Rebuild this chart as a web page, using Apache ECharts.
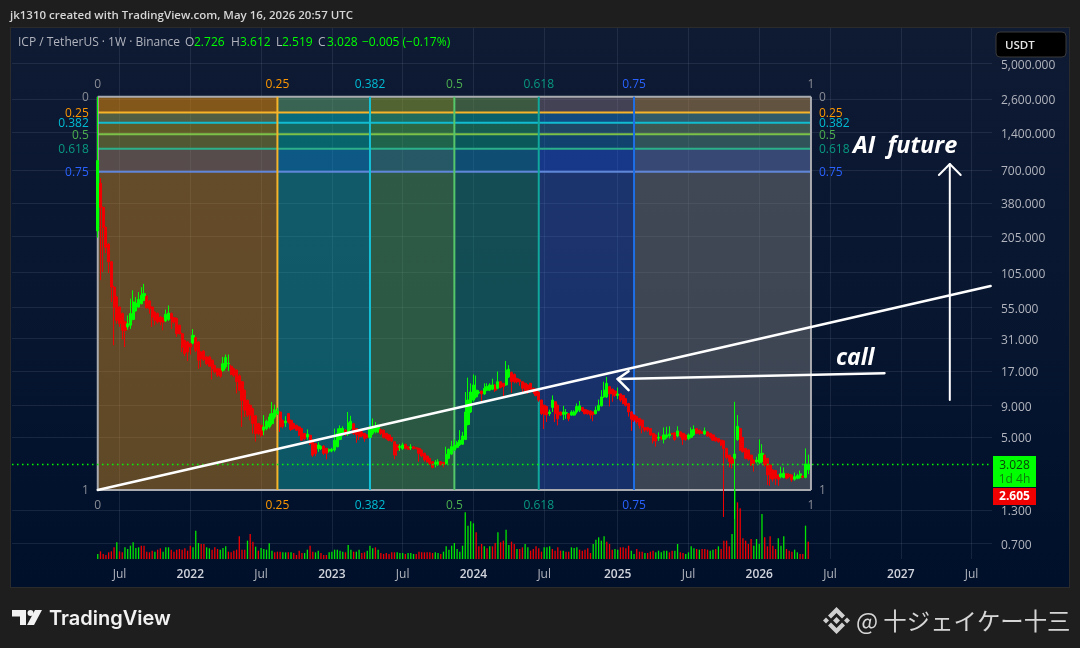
<!DOCTYPE html>
<html><head><meta charset="utf-8">
<style>html,body{margin:0;padding:0;background:#1e1e1e}#c{width:1080px;height:648px}</style>
<script src="https://cdn.jsdelivr.net/npm/echarts@6/dist/echarts.min.js"></script></head>
<body><div id="c"></div><script>
const opens=[226,546,350,242,177,128,80,66.7,55.4,49,
42,38.3,39.5,44,51.5,55.4,58.9,62.7,67.5,62,
55.4,50.5,49,46,45,42.8,44,49,45.4,44.7,
39.5,33.8,29.9,29,28.1,28.5,31.4,29,24.1,24.5,
22,22,20.7,18.8,17.7,17.7,17.2,18.3,19.4,18.5,
17.7,17.2,15.5,13.9,11.9,9.87,9,8.45,7.4,6.41,
6.2,5.67,5.85,6.03,6.41,7.25,7.71,7.95,6.81,6.5,
7.71,6.81,6.41,6.2,6.03,5.85,5.33,5.01,5.17,4.71,
4.43,4.03,4.05,4.23,4.05,3.86,3.86,3.93,4.18,4.78,
5.2,5.68,5.3,5.85,6.4,5.85,5.6,5.5,5.35,5.2,
4.97,5.35,5.5,5.5,5.75,5.68,5.35,5.2,4.97,4.58,
4.32,4.13,4.05,4.38,4.18,4.1,4.18,4.1,4.05,3.93,
3.7,3.52,3.37,3.17,3.03,3.03,3.17,3.13,3.07,3.37,
3.65,3.93,4.13,4.32,4.38,4.78,6.3,7.95,9.9,10.5,
11.3,11.7,11.1,11.9,11.9,12.1,13.1,12.3,13.9,13.5,
13.1,15.2,16.5,15.9,14.7,14.4,13.9,13.5,13.1,13.5,
12.3,12.1,11.5,9.9,9,8.8,7.7,8.65,9.6,9,
7.95,7.6,7.7,7.7,7.5,7.5,7.95,8.2,8.65,8.3,
8.2,8.1,7.95,7.7,8.2,8.9,10.5,10.5,12.7,12.1,
11.7,10.8,11.1,10.8,10.2,9.3,7.95,7.5,7.3,7.05,
6.84,5.97,5.97,5.85,5.35,5.2,4.9,5.03,4.8,4.97,
5.1,5.35,5.4,5.1,5.5,5.35,5.2,4.87,4.97,5.2,
5.85,5.68,5.5,5.3,5.5,5.35,5.2,4.97,4.87,4.72,
4.66,4.05,3.58,3.43,3.37,4.78,5.85,4.97,4.05,3.93,
3.58,3.27,3.17,3.12,3.17,3.58,3.37,2.98,2.72,2.69,
2.48,2.4,2.37,2.53,2.5,2.48,2.29,2.33,2.36,2.43,
2.37,2.726];
const closes=[830,350,242,167,128,80,55.4,43.3,40.7,36,
36,40.7,49,60.8,59.6,63.8,68.8,70.9,54.7,53.8,
46,43.3,42,42,42,48.4,49.6,44.7,42,33.8,
33.8,26.4,23.4,24.1,26.4,32.8,24.9,20.7,21.3,20.9,
19.4,18.5,17.7,16.7,15.7,15.4,19.4,21.8,19.6,16,
15.7,13.9,11.9,9.87,8.2,7.5,7.5,6.41,5.33,5.33,
5.17,6.03,6.7,7.25,7.71,8.3,8.1,6.03,6.1,6.7,
6.6,5.75,5.85,5.67,5.17,4.71,4.86,5.27,4.43,3.57,
3.68,4.32,4.18,3.7,3.7,3.98,3.98,4.72,5.35,5.85,
5.85,5.35,6.5,6.7,5.35,5.2,5.03,5.1,4.87,4.95,
5.75,5.85,5.97,6.05,5.35,4.97,4.87,4.72,4.66,3.58,
3.93,4.2,4.32,4.05,3.98,4.15,4.03,4.03,3.7,3.52,
3.27,3.17,3.07,2.85,3.12,3.15,3,3,3.63,3.98,
4.18,4.32,4.5,4.72,5.1,7.95,9.9,11.5,13.1,11.9,
11.5,11.1,12.3,12.7,13.1,13.1,11.9,13.9,12.5,12.7,
17.2,17.5,13.9,13.9,13.9,13.9,12.3,11.7,11.9,12.1,
11.5,10.8,9.9,7.7,7.6,7.5,7.95,9.9,7.7,7,
7.5,7.95,7.85,7,7.95,7.95,8.8,8.9,8.1,7.7,
7.7,7.5,7.6,8.2,9,10.5,11.9,13.5,11.1,11.1,
10.8,11.1,9.9,9.3,9,7.95,6.95,6.84,6.6,6.2,
5.97,5.68,5.68,5.2,4.66,4.66,4.97,4.87,5.2,5.2,
5.3,5.3,4.78,5.6,5.1,4.78,4.78,5.2,5.68,5.75,
5.35,5.35,5.35,5.6,5.1,4.97,4.72,4.66,4.58,4.32,
4.05,3.43,3.17,3.07,3.65,6.1,3.93,3.81,3.37,3.32,
2.98,3.07,3.27,3.65,3.7,2.98,2.48,2.33,2.29,2.33,
2.29,2.53,2.56,2.33,2.4,2.26,2.4,2.45,2.53,2.38,
3.033,3.028];
const lows=[200,91,106,150,104,60.9,27.3,40.7,38.3,30.4,
26.4,36.4,37,43.3,51,54.7,58.2,62,53.8,49,
38.3,39.5,40.7,39.5,36,42,42.8,37,40.7,31.8,
33.4,24.1,22.3,20.4,23,27.8,24.1,17.7,18.3,20.4,
18.8,18.3,14.5,16.2,15.2,15,16.7,17.7,17,15.7,
15.2,11.2,11.8,6.03,7.25,7.25,6.81,5.33,4.6,5.17,
5.01,5.17,5.67,5.85,6.2,7,7.5,5.5,5.85,6.03,
6.41,5.6,5.75,5.6,5.07,4.65,4.71,4.77,4.3,3.46,
3.5,3.81,3.93,3.58,3.31,3.75,3.77,3.81,4.13,4.72,
5.1,5.1,5.1,5.68,5.2,4.5,4.72,4.97,4.58,4.85,
4.87,5.2,5.35,5.4,5.2,4.87,4.78,4.63,4.55,3.31,
3.53,3.86,3.93,3.98,3.93,3.93,3.98,3.98,3.17,3.43,
3.17,3.12,2.98,2.8,2.85,2.93,2.96,2.85,3,3.32,
3.58,3.86,4.05,4.23,4.32,4.72,6.2,7.8,9.6,10.2,
11,9.4,10.9,11.7,11.7,11.9,11.5,12.1,12.3,10.5,
12.9,14.9,11.3,13.5,13.5,12.9,11.5,11.5,11.1,11.7,
11.1,10.6,9.6,7.5,5.8,6.6,7.4,7.95,6.6,6.2,
7.4,6.84,7,6.7,7.4,7.4,7.7,7.95,7.95,7.6,
7.55,7,6.7,7.6,8.05,8.8,10.3,10.3,8.8,9.6,
10.5,10.1,9.6,9.15,8.8,7.3,5.6,6.6,6.4,5.85,
5.35,5.5,5.5,5.1,4.44,4.18,4.66,4.72,4.44,4.87,
4.87,5.2,4.66,4.97,4.97,4.32,4.66,4.72,4.87,5.1,
5.3,5.2,5.3,5.2,5.03,4.87,4.66,4.58,4.5,4.23,
1.14,3.3,2.85,2.8,1.1,4.66,3.86,3.75,3.32,3.23,
2.93,2.64,3.07,3.03,3.07,2.89,2.06,2.03,2.19,2.06,
2.03,2.33,2.33,2.29,2.33,2.18,2.23,2.29,2.31,2.33,
2.33,2.519];
const highs=[2700,600,355,245,180,130,82,68,56,50,
43,47.4,64.6,75.4,66.7,73,80,85,68.8,63,
56,51,50,47,46,52.8,57,50,46,45.5,
40,34.5,30,29.5,28.5,36.8,32,29.5,24.5,25,
22.5,22.5,21,19,18,18,22,23,23,19,
18,17.5,16,14,12,10,9.2,8.6,7.5,6.5,
6.3,7.5,6.9,7.7,9.57,9.1,8.6,8.1,6.9,7.35,
7.8,6.9,6.5,6.3,6.1,5.9,5.4,5.75,5.2,4.75,
4.5,4.55,4.3,4.3,4.1,4.05,4.1,5.85,5.85,6.2,
6.1,5.8,7.95,7.4,6.5,5.9,5.7,5.6,5.4,5.25,
6.2,7.05,6.6,6.3,5.85,5.75,5.4,5.25,5,4.6,
4.4,4.38,4.5,4.4,4.22,4.38,4.2,4.12,4.1,3.95,
3.75,3.55,3.4,3.2,3.27,3.32,3.2,3.15,4.18,4.05,
4.66,4.78,4.66,5.68,5.5,11.5,15,13.5,15.9,15.6,
11.9,11.8,13.5,13.5,13.5,14.7,13.3,16.8,14,13.6,
20.4,18.9,16.8,16.2,15,14.6,14,13.7,13.3,13.6,
12.5,12.2,11.6,10,9.1,8.9,8.3,10.8,9.7,9.1,
8,8.9,8.4,7.8,8.2,8.2,9.3,9.75,8.7,8.4,
8.25,8.2,8,8.8,10,11.9,13.9,15.2,12.9,12.3,
11.9,12.5,11.2,10.9,10.3,9.4,8.1,7.6,7.35,7.1,
6.9,6,6,5.9,5.4,5.25,5.45,5.1,5.97,6.05,
6.1,5.4,5.45,6.1,5.55,5.4,5.25,5.35,5.97,6.2,
5.9,5.75,5.55,5.97,5.55,5.4,5.25,5,4.9,4.75,
4.7,4.1,3.6,3.45,9.6,7.5,5.95,5,4.1,4,
3.6,3.3,3.47,4.78,4.38,3.6,3.4,3,2.75,2.72,
2.5,2.89,2.85,2.56,2.56,2.5,2.59,2.53,2.69,2.45,
4.05,3.612];
const volumes=[15,23,15,12,20,23,35,50,23,20,
35,30,40,50,33,35,40,40,22,20,
25,22,28,32,22,35,35,28,22,28,
30,28,32,25,40,35,85,48,45,45,
35,32,28,35,30,28,33,38,22,20,
25,28,68,28,28,55,75,52,37,25,
33,30,28,47,25,20,22,22,20,20,
20,20,18,12,25,18,18,28,40,22,
20,25,18,12,12,20,22,28,28,25,
22,20,42,28,22,22,28,18,20,25,
40,32,35,28,18,15,18,15,20,20,
20,18,18,15,18,18,15,15,22,20,
20,20,20,18,20,18,15,22,38,28,
40,48,30,22,40,140,100,113,107,80,
38,45,38,32,38,38,48,80,50,55,
88,42,52,45,30,30,35,45,35,25,
30,38,32,22,35,35,38,30,25,35,
25,25,22,22,35,33,35,28,25,28,
32,18,45,58,65,55,68,52,45,28,
30,28,35,35,32,40,25,15,30,22,
22,18,18,22,25,20,25,20,25,25,
20,25,25,45,20,18,15,20,38,32,
30,28,30,30,28,25,28,30,38,30,
55,55,38,75,210,170,152,62,55,45,
60,40,60,45,135,65,38,68,40,30,
62,40,68,30,25,22,28,20,15,15,
100,52];
const volumeUpFlags=("1000000100"+"1111110000"+"0100111000"+"0000011100"+"1100011100"+"0000010010"+
"1111100011"+"0100001100"+"1100011111"+"1011011001"+"1101000000"+"1110111000"+"0000110111"+
"1111111110"+"0010100100"+"1100100110"+"0000111000"+"0100111000"+"0011111000"+"1100001100"+
"0100011111"+"0011001111"+"0100011010"+"0001100000"+"0111100000"+"1110001100"+"10");
const priceTicks=[5000,2600,1400,700,380,205,105,55,31,17,9,5,1.3,0.7];
const xTickDates=['2021-07-05','2022-01-03','2022-07-04','2023-01-02','2023-07-03','2024-01-01','2024-07-01','2025-01-06','2025-07-07','2026-01-05','2026-07-06','2027-01-04','2027-07-05'];
const xTickTexts=['Jul','2022','Jul','2023','Jul','2024','Jul','2025','Jul','2026','Jul','2027','Jul'];
const fibRatios=[0,0.25,0.382,0.5,0.618,0.75,1];
const fibLabels=['0','0.25','0.382','0.5','0.618','0.75','1'];
const fibTextColors=['#8a8d96','#ff9800','#00bcd4','#4caf50','#089981','#2962ff','#8a8d96'];
const fibLineColors=['#a9abb0','#f5b42a','#14c0d6','#55c76a','#0fa89a','#1e6fe6','#a9abb0'];
const fibHLineColors=['#a9abb0','#f5b42a','#12bcd0','#7cc248','#2bb08a','#5f86d8','#a9abb0'];
const fibTimeFill=['rgba(255,152,0,.36)','rgba(0,188,190,.38)','rgba(76,175,80,.42)','rgba(8,153,129,.38)','rgba(41,98,255,.28)','rgba(125,125,125,.42)'];
const fibPriceFill=['rgba(255,152,0,.2)','rgba(0,188,212,.2)','rgba(76,175,80,.2)','rgba(8,153,129,.2)','rgba(41,98,255,.2)','rgba(120,123,134,.1)'];
const fibTop=2700, fibBottom=1.88, fibBars=262, leadingBars=31, totalSlots=360;
const lastPrice=3.028;
const trendLine=[[31,1.88],[359,81.7]];
const callArrow=[[[320,16.3],[222,14.6]],[[226,16.9],[222,14.6],[226,11.9]]];
const futureArrow=[[[344,9.9],[344,780]],[[340,636],[344,780],[348,636]]];

const DAY=864e5, firstWeek=Date.UTC(2020,9,5);
const weeks=[];for(let i=0;i<totalSlots;i++)weeks.push(new Date(firstWeek+i*7*DAY).toISOString().slice(0,10));
const tickMap={};xTickDates.forEach((d,i)=>tickMap[d]=xTickTexts[i]);
const showTick=(idx,val)=>val in tickMap;
const FONT='"Open Sans",sans-serif';
const candleData=opens.map((o,i)=>[leadingBars+i,o,closes[i],lows[i],highs[i]]);
const volData=volumes.map((v,i)=>({value:[leadingBars+i,v],itemStyle:{color:volumeUpFlags[i]==='1'?'#00e600':'#f00000'}}));

function fibRender(params,api){
  const px=f=>api.coord([leadingBars+Math.round(f*fibBars),fibTop])[0];
  const py=f=>api.coord([leadingBars,fibTop-(fibTop-fibBottom)*f])[1];
  const ch=[];
  const x0=px(0),x1=px(1),y0=py(0),y1=py(1);
  for(let i=0;i<6;i++){
    ch.push({type:'rect',shape:{x:px(fibRatios[i]),y:y0,width:px(fibRatios[i+1])-px(fibRatios[i]),height:y1-y0},style:{fill:fibTimeFill[i]}});
  }
  for(let i=0;i<6;i++){
    ch.push({type:'rect',shape:{x:x0,y:py(fibRatios[i]),width:x1-x0,height:py(fibRatios[i+1])-py(fibRatios[i])},style:{fill:fibPriceFill[i]}});
  }
  fibRatios.forEach((f,i)=>{
    const y=py(f);
    ch.push({type:'line',shape:{x1:x0,y1:y,x2:x1,y2:y},style:{stroke:fibHLineColors[i],lineWidth:2}});
  });
  fibRatios.forEach((f,i)=>{
    const y=py(f),x=px(f);
    ch.push({type:'line',shape:{x1:x,y1:y0,x2:x,y2:y1},style:{stroke:fibLineColors[i],lineWidth:2}});
    const tx={fill:fibTextColors[i],font:'12px '+FONT,text:fibLabels[i],textVerticalAlign:'middle'};
    ch.push({type:'text',style:Object.assign({},tx,{x:x,y:y0-12,textAlign:'center'})});
    ch.push({type:'text',style:Object.assign({},tx,{x:x,y:y1+16,textAlign:'center'})});
    ch.push({type:'text',style:Object.assign({},tx,{x:x0-9,y:y+1,textAlign:'right'})});
    ch.push({type:'text',style:Object.assign({},tx,{x:x1+8,y:y+1,textAlign:'left'})});
  });
  return {type:'group',children:ch};
}
function drawRender(params,api){
  const lines=[trendLine,callArrow[0],callArrow[1],futureArrow[0],futureArrow[1]];
  const widths=[2.5,2.5,2.5,2,2];
  return {type:'group',children:lines.map((l,i)=>({type:'polyline',shape:{points:l.map(p=>api.coord(p))},style:{stroke:'#ffffff',lineWidth:widths[i],fill:null,lineCap:'round',lineJoin:'round'}}))};
}
const txt=(x,y,text,fill,font,extra)=>({type:'text',z:100,x:x,y:y,silent:true,style:Object.assign({text:text,fill:fill,font:font,textVerticalAlign:'middle'},extra||{})});
const rect=(x,y,w,h,fill,extra)=>Object.assign({type:'rect',silent:true,shape:{x:x,y:y,width:w,height:h},style:{fill:fill},z:100},extra||{});
const poly=(pts,fill)=>({type:'polygon',z:100,silent:true,shape:{points:pts},style:{fill:fill}});
const LEG='12px '+FONT, G='#00ff00', GR='#b2b5be';
const graphicEls=[
 rect(0,0,1080,648,'#1e1e1e',{z:-100}),
 rect(10,27,1060,561,'#2b2b2b',{z:-99}),
 {type:'rect',silent:true,z:-98,shape:{x:11,y:28,width:1058,height:559},style:{fill:new echarts.graphic.LinearGradient(0,0,0,1,[{offset:0,color:'#0f1a33'},{offset:.5,color:'#081630'},{offset:1,color:'#00102a'}])}},
 txt(10,16,'jk1310 created with TradingView.com, May 16, 2026 20:57 UTC','#d6d6d6','600 11.5px '+FONT),
 txt(18,43,'ICP / TetherUS · 1W · Binance',GR,LEG),
 txt(185,43,'O',GR,LEG),txt(194,43,'2.726',G,LEG),
 txt(231,43,'H',GR,LEG),txt(240,43,'3.612',G,LEG),
 txt(276,43,'L',GR,LEG),txt(282,43,'2.519',G,LEG),
 txt(318,43,'C',GR,LEG),txt(327,43,'3.028',G,LEG),
 txt(362,43,'−0.005 (−0.17%)',G,LEG),
 rect(996,32,70,25,'#000000',{style:{fill:'#000',stroke:'#3a3a3a',lineWidth:1},shape:{x:996,y:32,width:70,height:25,r:4}}),
 txt(1005,45.5,'USDT','#e6e6e6','600 11.5px '+FONT),
 txt(853,146,'AI  future','#ffffff','italic bold 23.5px "Open Sans",sans-serif'),
 txt(836,358,'call','#ffffff','italic bold 23px "Open Sans",sans-serif'),
 rect(993,456,43,31,'#00ff00'),
 txt(1014.5,466,'3.028','#0b3d0b','12px '+FONT,{textAlign:'center'}),
 txt(1014.5,480,'1d 4h','#0f7a0f','12px '+FONT,{textAlign:'center'}),
 rect(993,488,43,17,'#f00000'),
 txt(1014.5,497,'2.605','#ffffff','bold 12px '+FONT,{textAlign:'center'}),
 rect(12,610,14,6.5,'#f2f2f2'),rect(20,610,6,15,'#f2f2f2'),
 {type:'circle',z:100,silent:true,shape:{cx:30.5,cy:613,r:3},style:{fill:'#f2f2f2'}},
 poly([[35,610],[42,610],[34,625],[27,625]],'#f2f2f2'),
 txt(49,619,'TradingView','#f2f2f2','600 20px Inter,sans-serif'),
 poly([[836.5,607],[845,615.5],[842,618.5],[836.5,613],[831,618.5],[828,615.5]],'#cfcfcf'),
 poly([[836.5,634],[845,625.5],[842,622.5],[836.5,628],[831,622.5],[828,625.5]],'#cfcfcf'),
 poly([[823,620.5],[826,617.5],[829,620.5],[826,623.5]],'#cfcfcf'),
 poly([[844,620.5],[847,617.5],[850,620.5],[847,623.5]],'#cfcfcf'),
 poly([[833,620.5],[836.5,617],[840,620.5],[836.5,624]],'#cfcfcf'),
 txt(856,621,'@ 十ジェイケー十三','#d6d6d6','23.4px "Noto Sans CJK JP",sans-serif')
];
const option={
  animation:false,
  backgroundColor:'#1e1e1e',
  graphic:{elements:graphicEls},
  grid:{left:12,right:88,top:28,bottom:89,containLabel:false},
  xAxis:{type:'category',data:weeks,boundaryGap:true,
    axisLine:{show:false},
    axisTick:{show:false,alignWithLabel:true,interval:showTick},
    splitLine:{show:true,interval:showTick,alignWithLabel:true,lineStyle:{color:'rgba(130,140,165,.16)',width:1}},
    axisLabel:{interval:showTick,margin:10,color:GR,fontFamily:'"Open Sans",sans-serif',fontSize:12,hideOverlap:false,
      formatter:v=>{const t=tickMap[v];return t==='Jul'?t:'{y|'+t+'}';},
      rich:{y:{fontWeight:600,color:'#d1d4dc',fontSize:12,fontFamily:'"Open Sans",sans-serif'}}}},
  yAxis:[{type:'log',logBase:10,position:'right',min:0.524,max:9645,
      axisLine:{show:false},
      axisTick:{show:false,customValues:priceTicks},
      splitLine:{show:true,lineStyle:{color:'rgba(130,140,165,.16)',width:1}},
      axisLabel:{customValues:priceTicks,margin:9,color:GR,showMinLabel:true,showMaxLabel:true,
        formatter:v=>'{p|'+Number(v).toLocaleString('en-US',{minimumFractionDigits:3,maximumFractionDigits:3})+'}',
        rich:{p:{fontFamily:'"Open Sans",sans-serif',fontSize:12,color:GR,padding:[4,0,0,0]}}}},
    {type:'value',min:0,max:1593,show:false,splitLine:{show:false}}],
  series:[
    {type:'custom',name:'fib',renderItem:fibRender,data:[[31,fibTop]],z:1,clip:false,silent:true,encode:{x:0,y:1}},
    {type:'bar',name:'volume',yAxisIndex:1,data:volData,barWidth:1.3,z:2,silent:true},
    {type:'candlestick',name:'ICP',data:candleData,barWidth:2.6,z:3,silent:true,encode:{x:0,y:[1,2,3,4]},
      itemStyle:{color:'#00ff00',color0:'#f00000',borderColor:'#00ff00',borderColor0:'#f00000',borderWidth:1},
      markLine:{silent:true,symbol:'none',label:{show:false},animation:false,
        lineStyle:{color:'#00ff00',type:[1.5,3.5],width:1.3},data:[{yAxis:lastPrice}]}},
    {type:'custom',name:'drawings',renderItem:drawRender,data:[[31,1.88]],z:5,clip:false,silent:true,encode:{x:0,y:1}}
  ]
};
const chart=echarts.init(document.getElementById('c'),null,{renderer:'canvas'});
chart.setOption(option);
</script></body></html>
